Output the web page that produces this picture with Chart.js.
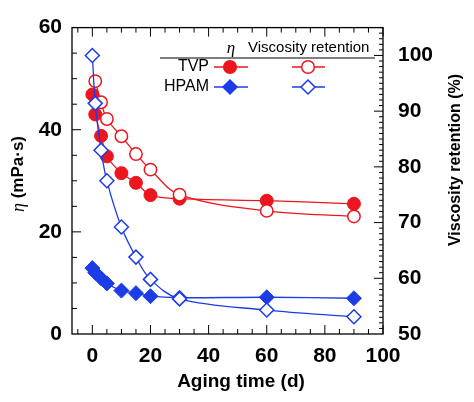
<!DOCTYPE html>
<html>
<head>
<meta charset="utf-8">
<script src="https://cdn.jsdelivr.net/npm/chart.js@4.4.0/dist/chart.umd.min.js"></script>
<style>
  html, body { margin: 0; padding: 0; background: #fff; }
  #wrap { width: 474px; height: 402px; }
</style>
</head>
<body>
<div id="wrap"><canvas id="myChart"></canvas></div>
<script>
// aging time (d)
const days = [0, 1, 3, 5, 10, 15, 20, 30, 60, 90];
// viscosity eta (mPa.s), left axis
const tvpEta = [46.9, 43.0, 38.8, 34.8, 31.5, 29.6, 27.2, 26.5, 26.1, 25.5];
const hpamEta = [12.9, 12.0, 10.9, 9.9, 8.5, 8.0, 7.4, 7.1, 7.2, 7.0];
// viscosity retention (%), right axis (TVP day 0 hidden under the HPAM marker)
const tvpRet = [null, 95.4, 91.6, 88.6, 85.5, 82.3, 79.5, 75.0, 72.1, 71.1];
const hpamRet = [100, 91.4, 83.0, 77.5, 69.2, 63.8, 59.8, 56.3, 54.3, 53.1];

const xTicks = [0, 20, 40, 60, 80, 100];
const yTicks = [0, 20, 40, 60];
const y2Ticks = [50, 60, 70, 80, 90, 100];

const RED = 'rgb(236,22,30)';
const BLUE = 'rgb(28,60,232)';
const SANS = "'Liberation Sans', Arial, sans-serif";

Chart.defaults.font.family = SANS;
Chart.defaults.color = '#000';

function pts(vals) {
    return days.map((d, i) => ({ x: d, y: vals[i] }));
}

// inward ticks, frame, titles and the two-column legend
const extras = {
    id: 'extras',
    beforeDatasetsDraw(chart) {
        const ctx = chart.ctx, a = chart.chartArea;
        const sx = chart.scales.x, sy = chart.scales.y, sy2 = chart.scales.y2;
        ctx.save();
        ctx.strokeStyle = '#000';
        ctx.lineWidth = 1.3;
        ctx.strokeRect(a.left, a.top, a.right - a.left, a.bottom - a.top);
        ctx.lineWidth = 1;
        ctx.beginPath();
        for (let v = -5; v <= 100; v += 5) {
            const p = sx.getPixelForValue(v);
            const len = v % 20 === 0 ? 9 : 5;
            ctx.moveTo(p, a.bottom); ctx.lineTo(p, a.bottom - len);
            ctx.moveTo(p, a.top); ctx.lineTo(p, a.top + len);
        }
        for (let v = 5; v < 60; v += 5) {
            const p = sy.getPixelForValue(v);
            const len = v % 20 === 0 ? 9 : 5;
            ctx.moveTo(a.left, p); ctx.lineTo(a.left + len, p);
        }
        for (let v = 51; v <= 105; v += 1) {
            const p = sy2.getPixelForValue(v);
            const len = v % 10 === 0 ? 9 : 4;
            ctx.moveTo(a.right, p); ctx.lineTo(a.right - len, p);
        }
        ctx.stroke();
        ctx.restore();
    },
    afterDraw(chart) {
        const ctx = chart.ctx;
        ctx.save();
        ctx.fillStyle = '#000';
        ctx.textBaseline = 'middle';

        // bottom title
        ctx.font = 'bold 19px ' + SANS;
        ctx.textAlign = 'center';
        ctx.fillText('Aging time (d)', 241, 382);

        // left title with italic eta
        ctx.save();
        ctx.translate(18, 174);
        ctx.rotate(-Math.PI / 2);
        const etaFont = 'italic 18px "Liberation Serif", serif';
        const restFont = 'bold 17px ' + SANS;
        ctx.font = etaFont;
        const w1 = ctx.measureText('η').width;
        ctx.font = restFont;
        const rest = ' (mPa·s)';
        const w2 = ctx.measureText(rest).width;
        const x0 = -(w1 + w2) / 2;
        ctx.textAlign = 'left';
        ctx.font = etaFont;
        ctx.fillText('η', x0, 1);
        ctx.font = restFont;
        ctx.fillText(rest, x0 + w1, 0);
        ctx.restore();

        // right title, reading upward
        ctx.save();
        ctx.translate(456, 160);
        ctx.rotate(-Math.PI / 2);
        ctx.font = 'bold 16px ' + SANS;
        ctx.textAlign = 'center';
        ctx.fillText('Viscosity retention (%)', 0, 0);
        ctx.restore();

        // legend
        ctx.font = 'italic 17px "Liberation Serif", serif';
        ctx.textAlign = 'center';
        ctx.fillText('η', 231, 49);
        ctx.font = '15px ' + SANS;
        ctx.textAlign = 'left';
        ctx.fillText('Viscosity retention', 248, 48);
        ctx.strokeStyle = '#555';
        ctx.lineWidth = 1.5;
        ctx.beginPath();
        ctx.moveTo(160, 58); ctx.lineTo(375, 58);
        ctx.stroke();

        const rows = [
            { label: 'TVP', y: 67, color: RED, shape: 'circle' },
            { label: 'HPAM', y: 87, color: BLUE, shape: 'diamond' }
        ];
        rows.forEach(r => {
            ctx.fillStyle = '#000';
            ctx.font = '16px ' + SANS;
            ctx.textAlign = 'right';
            ctx.fillText(r.label, 209, r.y);
            [[214, 248, 230, true], [292, 325, 308, false]].forEach(s => {
                ctx.strokeStyle = r.color;
                ctx.lineWidth = 1.4;
                ctx.beginPath();
                ctx.moveTo(s[0], r.y); ctx.lineTo(s[1], r.y);
                ctx.stroke();
                ctx.beginPath();
                if (r.shape === 'circle') {
                    ctx.arc(s[2], r.y, 6.3, 0, Math.PI * 2);
                } else {
                    ctx.moveTo(s[2], r.y - 7); ctx.lineTo(s[2] + 7, r.y);
                    ctx.lineTo(s[2], r.y + 7); ctx.lineTo(s[2] - 7, r.y);
                    ctx.closePath();
                }
                ctx.fillStyle = s[3] ? r.color : '#fff';
                ctx.fill();
                ctx.lineWidth = 1.5;
                ctx.stroke();
            });
        });
        ctx.restore();
    }
};

new Chart('myChart', {
    type: 'line',
    data: {
        datasets: [{
            label: 'HPAM retention',
            data: pts(hpamRet),
            yAxisID: 'y2',
            borderColor: BLUE,
            backgroundColor: '#fff',
            borderWidth: 1.3,
            pointStyle: 'rectRot',
            pointRadius: 7,
            pointBorderWidth: 1.5,
            tension: 0.35
        }, {
            label: 'TVP retention',
            data: pts(tvpRet),
            yAxisID: 'y2',
            borderColor: RED,
            backgroundColor: '#fff',
            borderWidth: 1.3,
            pointStyle: 'circle',
            pointRadius: 6.2,
            pointBorderWidth: 1.5,
            tension: 0.35
        }, {
            label: 'HPAM eta',
            data: pts(hpamEta),
            yAxisID: 'y',
            borderColor: BLUE,
            backgroundColor: BLUE,
            borderWidth: 1.3,
            pointStyle: 'rectRot',
            pointRadius: 7.5,
            pointBorderWidth: 1,
            tension: 0.3
        }, {
            label: 'TVP eta',
            data: pts(tvpEta),
            yAxisID: 'y',
            borderColor: RED,
            backgroundColor: RED,
            borderWidth: 1.3,
            pointStyle: 'circle',
            pointRadius: 6.5,
            pointBorderWidth: 1,
            tension: 0.3
        }]
    },
    options: {
        responsive: true,
        maintainAspectRatio: false,
        animation: false,
        layout: { padding: { top: 24, left: 0, right: 0, bottom: 0 } },
        plugins: {
            legend: { display: false },
            tooltip: { enabled: false }
        },
        scales: {
            x: {
                type: 'linear',
                position: 'bottom',
                min: -7,
                max: 100,
                grid: { display: false, drawTicks: false },
                border: { display: false },
                afterBuildTicks: s => { s.ticks = xTicks.map(v => ({ value: v })); },
                afterFit: s => { s.height = 68; },
                ticks: { font: { size: 21, weight: 'bold' }, padding: 10, maxRotation: 0 }
            },
            y: {
                type: 'linear',
                position: 'left',
                min: 0,
                max: 60,
                grid: { display: false, drawTicks: false },
                border: { display: false },
                afterBuildTicks: s => { s.ticks = yTicks.map(v => ({ value: v })); },
                afterFit: s => { s.width = 72; },
                ticks: { font: { size: 21, weight: 'bold' }, padding: 10 }
            },
            y2: {
                type: 'linear',
                position: 'right',
                min: 50,
                max: 105,
                grid: { display: false, drawTicks: false },
                border: { display: false },
                afterBuildTicks: s => { s.ticks = y2Ticks.map(v => ({ value: v })); },
                afterFit: s => { s.width = 91; },
                ticks: { font: { size: 21, weight: 'bold' }, padding: 15 }
            }
        }
    },
    plugins: [extras]
});
</script>
</body>
</html>
